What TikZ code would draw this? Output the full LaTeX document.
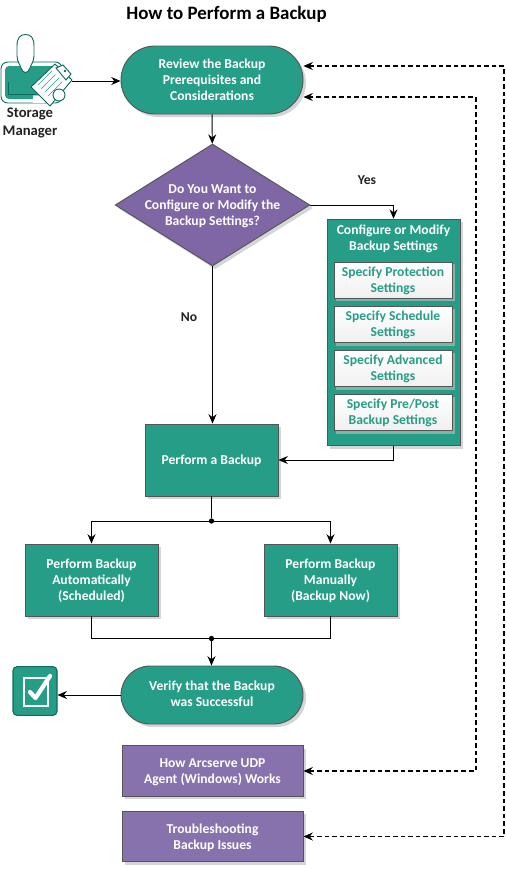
\documentclass[tikz,border=0pt]{standalone}
\usepackage{fontspec}
\setmainfont{Carlito}
\usetikzlibrary{arrows.meta,shapes.geometric,calc}
\definecolor{teal1}{HTML}{269E87}
\definecolor{tealD}{HTML}{0F6B5C}
\definecolor{tealS}{HTML}{7FB5A9}
\definecolor{purp}{HTML}{7F67A5}
\definecolor{purpL}{HTML}{8872AD}
\definecolor{edgeG}{HTML}{555555}
\definecolor{shad}{HTML}{D2D7D6}
\definecolor{txtD}{HTML}{222222}
\newcommand\tx[2][0.8]{\raisebox{-#1pt}[\height][\depth]{\begin{tabular}{@{}c@{}}#2\end{tabular}}}
\tikzset{
  px/.style={x=0.75pt,y=-0.75pt},
  lbl/.style={font=\fontsize{10.2pt}{12pt}\selectfont\bfseries},
  box/.style={draw=edgeG,line width=0.7pt,inner sep=0pt,lbl,text=white,
     minimum width=#1*0.75pt},
  tealbox/.style={box=133,fill=teal1,minimum height=54pt},
  purpbox/.style={box=181,fill=purpL,minimum height=38pt},
  term/.style={box=182,fill=teal1},
  inner/.style={draw=edgeG,line width=0.7pt,top color=white,bottom color=black!6,text=teal1,
     lbl,minimum width=88.5pt,minimum height=27pt,inner sep=0pt},
  link/.style={draw=black,line width=0.7pt,-{Stealth[length=7pt,width=6pt]}},
  plainlink/.style={draw=black,line width=0.7pt},
  dlink/.style={draw=black,line width=0.9pt,dash pattern=on 3.5pt off 2.2pt,{Stealth[length=7pt,width=6pt]}-{Stealth[length=7pt,width=6pt]}},
  dotn/.style={circle,fill=black,inner sep=0pt,minimum size=4pt}
}
\begin{document}
\begin{tikzpicture}[px]
\useasboundingbox (0,0) rectangle (506,869);
% shadows
\fill[shad] (330,222) rectangle (463,449);
\fill[shad] (148,427) rectangle (281,499);
\fill[shad] (28,547) rectangle (161,619);
\fill[shad] (267,547) rectangle (400,619);
\fill[shad] (125,749) rectangle (306,799);
\fill[shad] (125,814) rectangle (306,865);
\fill[shad,rounded corners=25.5pt] (124,49) rectangle (306,117);
\fill[shad,rounded corners=21.7pt] (124,669) rectangle (306,727);
\fill[shad] (118,208) -- (215,147) -- (313,208) -- (215,269) -- cycle;
\node[font=\fontsize{14.2pt}{17pt}\selectfont\bfseries,text=black] (title) at (226.5,14) {How to Perform a Backup};
\node[term,rounded corners=25.5pt,minimum height=51pt] (review) at (212,80) {\tx{Review the Backup\\Prerequisites and\\Considerations}};
\node[diamond,draw=edgeG,line width=0.7pt,fill=purp,inner sep=-10pt,minimum width=146pt,minimum height=91.5pt,aspect=1.6,lbl,text=white] (choice) at (212.5,205) {\tx{Do You Want to\\Configure or Modify the\\Backup Settings?}};
\node[box=133,fill=teal1,minimum height=170pt] (config) at (393.5,332.5) {};
\node[lbl,text=white] (configtxt) at (393.5,238) {\tx{Configure or Modify\\Backup Settings}};
\foreach \n/\y/\t in {a/280/{Specify Protection\\Settings},b/324.5/{Specify Schedule\\Settings},c/368.5/{Specify Advanced\\Settings},d/412.5/{Specify Pre/Post\\Backup Settings}}{
  \fill[tealS] (336,\y-16) rectangle (455,\y+21);
  \node[inner] (s\n) at (393,\y) {\tx{\t}};
}
\node[tealbox] (perform) at (211.5,460) {\tx{Perform a Backup}};
\node[tealbox] (auto) at (91.5,580) {\tx{Perform Backup\\Automatically\\(Scheduled)}};
\node[tealbox] (manual) at (330.5,580) {\tx{Perform Backup\\Manually\\(Backup Now)}};
\node[term,rounded corners=21.7pt,minimum height=43.5pt] (verify) at (212,695) {\tx[0]{Verify that the Backup\\was Successful}};
\node[purpbox] (how) at (212.5,771) {\tx{How Arcserve UDP\\Agent (Windows) Works}};
\node[purpbox] (trouble) at (212.5,836.5) {\tx[1.5]{Troubleshooting\\Backup Issues}};
\node[dotn] (dot1) at (211.5,521) {};
\node[dotn] (dot2) at (211.5,638.5) {};
\node[lbl,text=txtD] (yes) at (367,180) {Yes};
\node[lbl,text=txtD] (no) at (189,317) {No};
\node[text=txtD,font=\fontsize{11pt}{13.5pt}\selectfont\bfseries] (mgr) at (30,122) {\tx{Storage\\Manager}};
% check icon
\node[draw=tealD,line width=0.8pt,fill=teal1,rounded corners=3pt,minimum width=33pt,minimum height=36.5pt,inner sep=0pt] (check) at (35,691) {};
\draw[white,line width=1pt] (24,678) rectangle (48,706);
\draw[white,line width=3.2pt,line cap=round,line join=round] (30,692) -- (35.5,698) -- (50,676);
% person icon
\coordinate (port) at (72,81);
\draw[tealD,line width=0.7pt,fill=white,rounded corners=5pt] (1,62) rectangle (62,103);
\fill[teal1,rounded corners=3pt] (5,66) rectangle (56,99);
\draw[tealD,line width=0.7pt,fill=white] (17,46) .. controls (17,38) and (20,34.5) .. (25.5,34.5) .. controls (31,34.5) and (34,38) .. (34,46) -- (34,56) .. controls (34,62) and (30,66) .. (30,68) .. controls (29,71) and (27,72.5) .. (25.5,72.5) .. controls (24,72.5) and (22,71) .. (21,68) .. controls (21,66) and (17,62) .. (17,56) -- cycle;
\draw[tealD,line width=0.7pt] (8,82) -- (8,94) -- (36,94);
\fill[white] (33,95) rectangle (45,103);
\draw[tealD,line width=0.7pt] (33,95) -- (43,95) -- (45,100);
\draw[tealD,line width=0.7pt,fill=white,line join=round] (31,87) -- (55,64) -- (72,80) -- (50,106) -- cycle;
\draw[tealD,line width=0.7pt,fill=white] (56,68) -- (63,65) -- (71,74) -- (66,80) -- cycle;
\fill[tealD] (65,71) circle (1pt);
\draw[tealD,line width=0.7pt,fill=white] (59,95) circle (4.5pt);
\foreach \i in {0,1,2,3}{
  \draw[teal1,line width=0.5pt] ($(38,85)+(\i*3.4,\i*3.6)$) -- ++(14,-14);
}
% connectors
\draw[link] (port) -- (review.west |- port);
\draw[link] (review) -- (choice);
\draw[link] (choice.east) -| (config.north);
\draw[link] (choice.south) -- (perform.north -| choice.south);
\draw[link] (config.south) |- (perform.east);
\draw[plainlink] (perform.south) -- (dot1);
\draw[link] (dot1) -| (auto.north);
\draw[link] (dot1) -| (manual.north);
\draw[plainlink] (auto.south) |- (dot2);
\draw[plainlink] (manual.south) |- (dot2);
\draw[link] (dot2) -- (verify.north -| dot2);
\draw[link] (verify.west) -- (check.east |- verify.west);
\coordinate (r1) at ($(review.east)+(0,-14)$);
\coordinate (r2) at ($(review.east)+(0,17)$);
\draw[dlink] (how.east) -- (476,771) |- (r2);
\draw[dlink] (trouble.east) -- (504,836.5) |- (r1);
\end{tikzpicture}
\end{document}
